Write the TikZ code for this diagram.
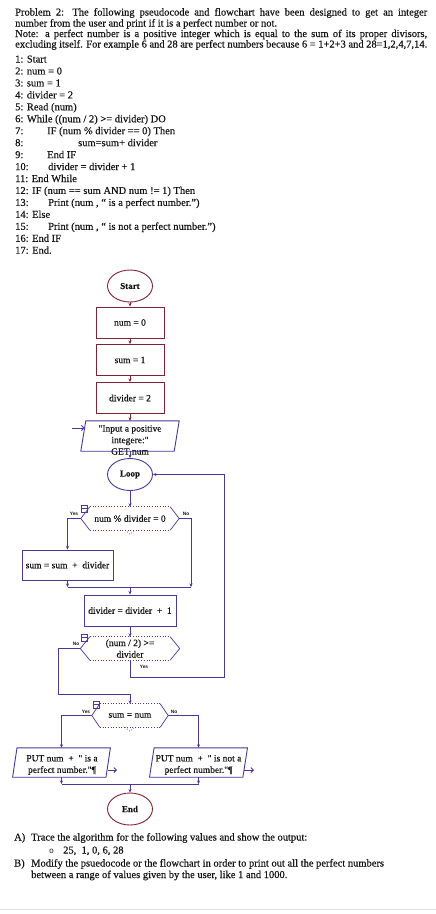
\documentclass[tikz,border=0pt]{standalone}
\usepackage{fontspec}
\setmainfont{Liberation Serif}
\newfontface\txtface{Liberation Serif}[FakeBold=0.35]
\newfontface\txtbold{Liberation Serif Bold}[FakeBold=0.2]
\newfontfamily\lblfont{Liberation Sans}
\newfontfamily\bulfont{Liberation Mono}
\usetikzlibrary{shapes.geometric,calc,arrows.meta}
\definecolor{mar}{RGB}{125,35,50}
\definecolor{nav}{RGB}{75,55,155}
\definecolor{ink}{RGB}{20,20,20}
\newcommand{\drawdec}[2]{%
  \draw[nav, line width=.7pt, dotted] (#1.north west) -- (#1.north east) (#1.south west) -- (#1.south east);
  \draw[nav, line width=.7pt] (#1.north west) -- ($(#1.west)+(-#2,0)$) coordinate (#1l) -- (#1.south west);
  \draw[nav, line width=.7pt] (#1.north east) -- ($(#1.east)+(#2,0)$) coordinate (#1r) -- (#1.south east);
}
\newcommand{\drawicon}[2]{%
  \draw[nav, line width=.6pt] (#1,#2) rectangle ++(6,7);
  \draw[nav, line width=.6pt] (#1,#2+3.5) -- ++(6,0);
}
\begin{document}
\begin{tikzpicture}[x=1pt,y=-1pt,
  txt/.style={anchor=base west, inner sep=0pt, font=\txtface\fontsize{10.5}{12}\selectfont, text=ink},
  fc/.style={font=\txtface\fontsize{9.5}{11.5}\selectfont, text=ink, align=center},
  term/.style={fc, ellipse, draw=mar, line width=.9pt, minimum width=45pt, minimum height=32pt, inner sep=0pt, font=\txtbold\fontsize{9}{11}\selectfont},
  procm/.style={fc, rectangle, draw=mar, line width=1pt, minimum width=68pt, minimum height=31pt, inner sep=1pt},
  procn/.style={procm, draw=nav},
  dec/.style={fc, rectangle, inner sep=0pt, minimum width=80pt, minimum height=23pt},
  iobox/.style={rectangle, inner sep=0pt, minimum width=93pt},
  lbl/.style={font=\lblfont\fontsize{4.8}{5}\selectfont\bfseries, inner sep=0pt, text=ink},
  arr/.style={-{Stealth[length=3.5pt,width=3pt]}},
  oarr/.style={-{Straight Barb[length=2.5pt,width=5pt]}},
  flow/.style={draw=nav, line width=.9pt},
  flowm/.style={draw=mar, line width=.9pt}]
\useasboundingbox (0,0) rectangle (436,914);
\fill[white] (0,0) rectangle (436,914);

% ---------- header text ----------
\node[txt] (h1) at (15,15.5) {\makebox[412pt][s]{Problem 2: The following pseudocode and flowchart have been designed to get an integer}};
\node[txt] (h2) at (15,26.5) {number from the user and print if it is a perfect number or not.};
\node[txt] (h3) at (15,37) {\makebox[412pt][s]{Note: a perfect number is a positive integer which is equal to the sum of its proper divisors,}};
\node[txt] (h4) at (15,47.5) {\makebox[412pt][s]{excluding itself. For example 6 and 28 are perfect numbers because 6 = 1+2+3 and 28=1,2,4,7,14.}};

% ---------- pseudocode ----------
\node[txt] (p1) at (15,62.5) {1: Start};
\node[txt] (p2) at (15,74.45) {2: num = 0};
\node[txt] (p3) at (15,86.4) {3: sum = 1};
\node[txt] (p4) at (15,98.35) {4: divider = 2};
\node[txt] (p5) at (15,110.3) {5: Read (num)};
\node[txt] (p6) at (15,122.25) {6: While ((num / 2) >= divider) DO};
\node[txt] (p7) at (15,134.2) {7:};
\node[txt] (p7b) at (47,134.2) {IF (num \% divider == 0) Then};
\node[txt] (p8) at (15,146.15) {8:};
\node[txt] (p8b) at (78,146.15) {sum=sum+ divider};
\node[txt] (p9) at (15,158.1) {9:};
\node[txt] (p9b) at (47,158.1) {End IF};
\node[txt] (p10) at (15,170.05) {10:};
\node[txt] (p10b) at (48,170.05) {divider = divider + 1};
\node[txt] (p11) at (15,182) {11: End While};
\node[txt] (p12) at (15,193.95) {12: IF (num == sum AND num != 1) Then};
\node[txt] (p13) at (15,205.9) {13:};
\node[txt] (p13b) at (48,205.9) {Print (num , “ is a perfect number.”)};
\node[txt] (p14) at (15,217.85) {14: Else};
\node[txt] (p15) at (15,229.8) {15:};
\node[txt] (p15b) at (48,229.8) {Print (num , “ is not a perfect number.”)};
\node[txt] (p16) at (15,241.75) {16: End IF};
\node[txt] (p17) at (15,253.7) {17: End.};

% ---------- flowchart nodes ----------
\node[term] (start) at (130,286) {Start};
\node[procm] (n0) at (130,322.5) {num = 0};
\node[procm] (s1) at (130,360) {sum = 1};
\node[procm] (dv) at (130,398) {divider = 2};
\node[iobox, minimum height=30pt] (inp) at (130,436) {};
\node[fc] (inptxt) at (130,440) {"Input a positive\\integere:"\\GET num};
\draw[flow] ($(inp.south west)+(-2.5,0)$) -- ($(inp.north west)+(2.5,0)$) -- ($(inp.north east)+(2.5,0)$) -- ($(inp.south east)+(-2.5,0)$) -- cycle;
\node[term, draw=nav] (loop) at (130,474.5) {Loop};
\node[dec] (d1) at (130,518.5) {num \% divider = 0};
\drawdec{d1}{9}
\node[procn, minimum width=91pt, minimum height=30pt] (ss) at (67.5,565) {sum = sum~~+~~divider};
\node[procn, minimum width=92pt] (inc) at (130,610.5) {divider = divider~~+~~1};
\node[dec] (d2) at (130,648.5) {(num / 2) >=\\divider};
\drawdec{d2}{9.5}
\node[dec, minimum width=60pt] (d3) at (130,715.5) {sum = num};
\drawdec{d3}{8}
\node[iobox, minimum height=29pt] (outL) at (61.5,762.5) {};
\node[fc] (outLt) at (62,765) {PUT num~~+~~" is a\\perfect number."¶};
\draw[flow] ($(outL.south west)+(-2.2,0)$) -- ($(outL.north west)+(2.2,0)$) -- ($(outL.north east)+(2.2,0)$) -- ($(outL.south east)+(-2.2,0)$) -- cycle;
\node[iobox, minimum height=29pt] (outR) at (198.5,762.5) {};
\node[fc] (outRt) at (198.5,765) {PUT num~~+~~" is not a\\perfect number."¶};
\draw[flow] ($(outR.south west)+(-2.3,0)$) -- ($(outR.north west)+(2.3,0)$) -- ($(outR.north east)+(2.3,0)$) -- ($(outR.south east)+(-2.3,0)$) -- cycle;
\node[term] (end) at (130,809) {End};

% chevrons and icons
\draw[nav, dotted, line width=.7pt] ($(d1.south)+(-5,0)$) -- ($(d1.south)+(0,4)$) -- ($(d1.south)+(5,0)$);
\draw[nav, dotted, line width=.7pt] ($(d3.south)+(-5,0)$) -- ($(d3.south)+(0,4)$) -- ($(d3.south)+(5,0)$);
\drawicon{81}{505}
\drawicon{81}{634}
\drawicon{93}{701}

% labels
\node[lbl] (y1) at (74,514) {Yes};
\node[lbl] (n1) at (186,514) {No};
\node[lbl] (n2) at (76,644) {No};
\node[lbl] (y2) at (144,667) {Yes};
\node[lbl] (y3) at (86,712) {Yes};
\node[lbl] (n3) at (174,712) {No};

% ---------- connectors ----------
\draw[flowm, arr] (start) -- (n0);
\draw[flowm, arr] (n0) -- (s1);
\draw[flowm, arr] (s1) -- (dv);
\draw[flowm, arr] (dv) -- (inp.north);
\coordinate (inA) at (72,428);
\coordinate (inB) at (84.6,428);
\draw[flow, oarr] (inA) -- (inB);
\draw[flow, arr] (inp.south) -- (loop.north);
\draw[flow, arr] (loop.south) -- (d1.north);
\draw[flow, arr] (d1l) -| (ss.north);
\coordinate (j1l) at (67.5,587);
\coordinate (j1r) at (191,587);
\draw[flow, arr] (d1r) -| (j1r);
\draw[flow, arr] (ss.south) -- (j1l);
\draw[flow] (j1l) -- (j1r);
\draw[flow, arr] (inc.north |- j1l) -- (inc.north);
\draw[flow, arr] (inc.south) -- (d2.north);
\coordinate (j2) at (58,694);
\draw[flow, arr] (d2l) -| (j2) -| (d3.north);
\coordinate (lb) at (224,677);
\draw[flow, arr] (d2.south) |- (lb) |- (loop.east);
\draw[flow, arr] (d3l) -| (outL.north);
\draw[flow, arr] (d3r) -| (outR.north);
\coordinate (j3l) at (61.5,784);
\coordinate (j3r) at (198.5,784);
\draw[flow, arr] (outL.south) -- (j3l);
\draw[flow, arr] (outR.south) -- (j3r);
\draw[flow] (j3l) -- (j3r);
\draw[flow, arr] (end.north |- j3l) -- (end.north);
\coordinate (oLa) at (107.5,770);
\coordinate (oLb) at (117,770);
\draw[flow, oarr] (oLa) -- (oLb);
\coordinate (oRa) at (244,770);
\coordinate (oRb) at (254,770);
\draw[flow, oarr] (oRa) -- (oRb);

% ---------- questions ----------
\node[txt] (qa) at (14,840.5) {A)};
\node[txt] (qat) at (31,840.5) {Trace the algorithm for the following values and show the output:};
\node[txt, font=\bulfont\fontsize{8}{8}\selectfont] (bul) at (49,853) {o};
\node[txt] (vals) at (63,853.5) {25,~~1, 0, 6, 28};
\node[txt] (qb) at (14,866.5) {B)};
\node[txt] (qbt) at (31,866.5) {Modify the psuedocode or the flowchart in order to print out all the perfect numbers};
\node[txt] (qbt2) at (31,878) {between a range of values given by the user, like 1 and 1000.};
\draw[black!12, line width=1pt] (0,909) -- (436,909);
\end{tikzpicture}
\end{document}
